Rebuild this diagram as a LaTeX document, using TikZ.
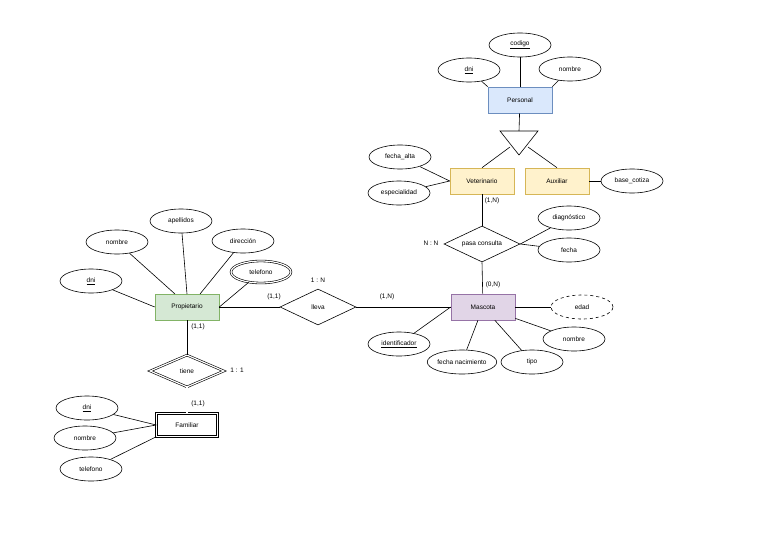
\documentclass[tikz,border=0pt]{standalone}
\usepackage{fontspec}
\setmainfont{Liberation Sans}
\usetikzlibrary{shapes.geometric,shapes.misc}
\definecolor{bF}{HTML}{DAE8FC}\definecolor{bD}{HTML}{6C8EBF}
\definecolor{yF}{HTML}{FFF2CC}\definecolor{yD}{HTML}{D6B656}
\definecolor{gF}{HTML}{D5E8D4}\definecolor{gD}{HTML}{82B366}
\definecolor{pF}{HTML}{E1D5E7}\definecolor{pD}{HTML}{9673A6}
\begin{document}
\begin{tikzpicture}[x=1pt,y=-1pt,font=\fontsize{6.5}{7}\selectfont,
 ent/.style={draw,minimum width=64pt,minimum height=26pt,inner sep=0},
 att/.style={draw,ellipse,minimum width=62pt,minimum height=24pt,inner sep=0},
 rel/.style={draw,diamond,aspect=2.1,minimum width=76pt,minimum height=36pt,inner sep=0},
 lbl/.style={inner sep=1pt},
 every path/.style={line width=0.6pt}]
\useasboundingbox (0,0) rectangle (768,543);
% Personal hierarchy
\node[ent,fill=bF,draw=bD] (per) at (520,100) {Personal};
\node[att] (pcod) at (520,45) {\underline{codigo}};
\node[att] (pdni) at (469,70) {\underline{dni}};
\node[att] (pnom) at (570,69) {nombre};
\coordinate (t1) at (500,131); \coordinate (t2) at (538,131); \coordinate (t3) at (519,155);
\draw (t1) -- (t2) -- (t3) -- cycle;
\coordinate (tl) at (510,147); \coordinate (tr) at (528,147); \coordinate (tt) at (519,131);
\node[ent,fill=yF,draw=yD] (vet) at (482,181) {Veterinario};
\node[ent,fill=yF,draw=yD] (aux) at (557,181) {Auxiliar};
\draw (per) -- (tt);
\draw (tl) -- (vet.north);
\draw (tr) -- (aux.north);
\draw (pcod) -- (per.north);
\draw (pdni) -- (per.north west);
\draw (pnom) -- (per.north east);
\node[att] (vfa) at (400,157) {fecha\_alta};
\node[att] (vesp) at (399,193) {especialidad};
\node[att] (abc) at (632,181) {base\_cotiza};
\draw (vfa) -- (vet.west); \draw (vesp) -- (vet.west); \draw (aux) -- (abc);
% pasa consulta
\node[rel] (pc) at (482,244) {pasa consulta};
\node[lbl] at (431,243) {N : N};
\node[lbl] at (492,201) {(1,N)};
\node[att] (diag) at (569,218) {diagnóstico};
\node[att] (fec) at (569,250) {fecha};
\draw (vet) -- (pc.north);
\draw (diag) -- (pc.east); \draw (fec) -- (pc.east);
% Mascota
\node[ent,fill=pF,draw=pD] (mas) at (483,307) {Mascota};
\node[lbl] at (493,285) {(0,N)};
\draw (pc.south) -- (mas);
\node[att,dashed] (edad) at (582,307) {edad};
\node[att] (mnom) at (574,339) {nombre};
\node[att] (mtipo) at (532,362) {tipo};
\node[att] (mfn) at (462,362) {fecha nacimiento};
\node[att] (mid) at (399,344) {\underline{identificador}};
\draw (mas) -- (edad); \draw (mas) -- (mnom); \draw (mas) -- (mtipo);
\draw (mas) -- (mfn); \draw (mas.west) -- (mid);
% lleva
\node[rel] (lle) at (318,307) {lleva};
\node[lbl] at (318,280) {1 : N};
\node[lbl] at (387,297) {(1,N)};
\node[lbl] at (274,297) {(1,1)};
\draw (lle) -- (mas);
% Propietario
\node[ent,fill=gF,draw=gD] (pro) at (187,307) {Propietario};
\draw (pro) -- (lle);
\node[att] (odni) at (91,281) {\underline{dni}};
\node[att] (onom) at (117,242) {nombre};
\node[att] (oape) at (181,221) {apellidos};
\node[att] (odir) at (243,241) {dirección};
\node[att,double,double distance=1.2pt,minimum width=60pt,minimum height=22pt] (otel) at (261,272) {telefono};
\draw (odni) -- (pro.west); \draw (onom) -- (175,294); \draw (oape) -- (187,294);
\draw (odir) -- (200,294); \draw (otel) -- (pro.east);
% tiene
\node[rel,double,double distance=1.2pt,minimum width=74pt,minimum height=32pt] (tie) at (187,371) {tiene};
\node[lbl] at (198,327) {(1,1)};
\node[lbl] at (237,370) {1 : 1};
\node[lbl] at (198,404) {(1,1)};
\draw (pro) -- (tie);
\node[ent,double,double distance=1.5pt,minimum width=61pt,minimum height=23pt] (fam) at (187,425) {Familiar};
\draw[double,double distance=1.2pt] (tie) -- (fam);
\node[att] (fdni) at (87,408) {\underline{dni}};
\node[att] (fnom) at (85,438) {nombre};
\node[att] (ftel) at (91,469) {telefono};
\draw (fdni) -- (fam.west); \draw (fnom) -- (fam.west); \draw (ftel) -- (fam.south west);
\end{tikzpicture}
\end{document}
